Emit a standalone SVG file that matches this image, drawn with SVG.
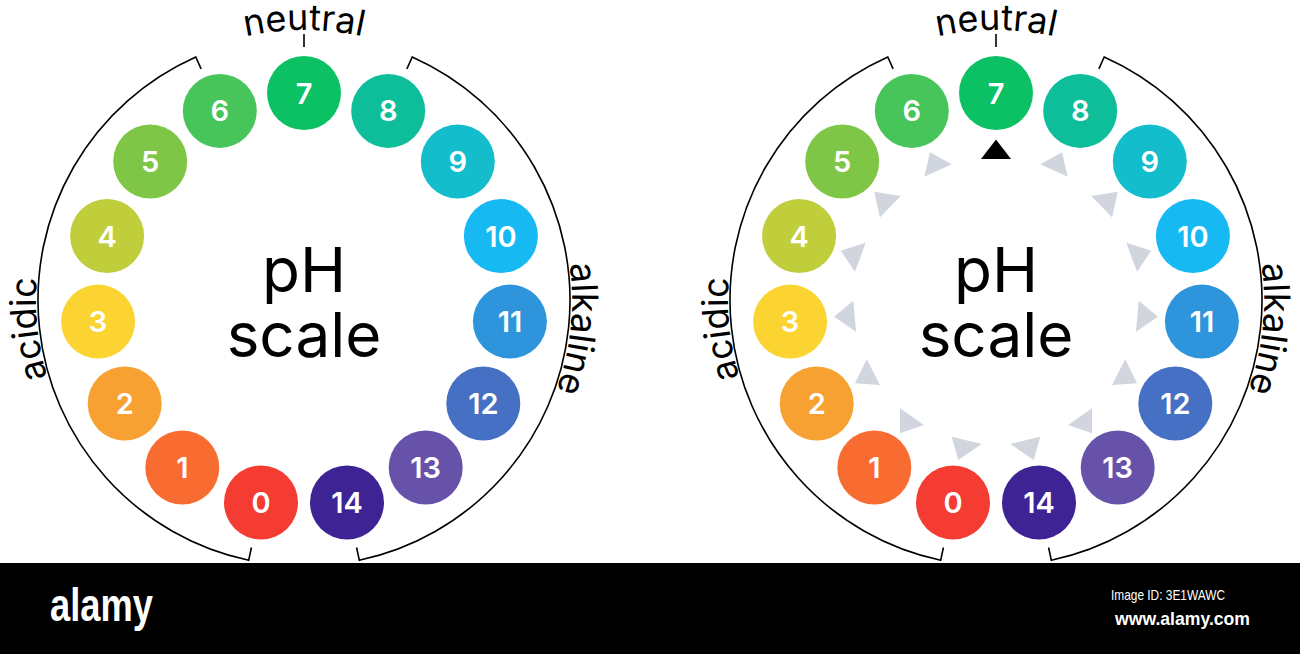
<svg xmlns="http://www.w3.org/2000/svg" xmlns:xlink="http://www.w3.org/1999/xlink" width="1300" height="654" viewBox="0 0 1300 654">
<style>
  .num { font-family: Inter, "Liberation Sans", sans-serif; font-size: 29px; font-weight: 600; fill: #ffffff; text-anchor: middle; }
  .title { font-family: Inter, "Liberation Sans", sans-serif; font-size: 62px; font-weight: 400; fill: #000000; text-anchor: middle; }
  .lbl { font-family: Inter, "Liberation Sans", sans-serif; font-size: 36px; font-weight: 400; fill: #000000; }
  .br { fill: none; stroke: #000000; stroke-width: 1.6; }
  .tri { fill: #D0D5DE; }
  .c0 { fill: #F43C32; } .c1 { fill: #F96C31; } .c2 { fill: #F7A132; } .c3 { fill: #FCD432; }
  .c4 { fill: #C1CE3B; } .c5 { fill: #7FC646; } .c6 { fill: #47C45A; } .c7 { fill: #0CC164; }
  .c8 { fill: #0EBE9B; } .c9 { fill: #14BDCC; } .c10 { fill: #17B9F2; } .c11 { fill: #2E95DC; }
  .c12 { fill: #4670C4; } .c13 { fill: #6752A9; } .c14 { fill: #3E2395; }
  .wm { font-family: "Liberation Sans", Arial, sans-serif; fill: #ffffff; }
</style>
<defs>
  <path id="arcN" d="M130.4,93.2 A270,270 0 0 1 477.6,93.2"/>
  <path id="arcA" d="M117.8,492.8 A268,268 0 0 1 81.8,150.1"/>
  <path id="arcK" d="M526.2,150.1 A268,268 0 0 1 490.2,492.8"/>
  <path id="arcN2" d="M822.4,93.2 A270,270 0 0 1 1169.6,93.2"/>
  <path id="arcA2" d="M809.8,492.8 A268,268 0 0 1 773.8,150.1"/>
  <path id="arcK2" d="M1218.2,150.1 A268,268 0 0 1 1182.2,492.8"/>
</defs>
<rect x="0" y="0" width="1300" height="654" fill="#ffffff"/>

<!-- LEFT WHEEL -->
<g id="left-wheel">
  <g id="left-brackets" class="connectors">
    <path class="br" d="M251.4,547.5 L248.7,560.2 A266,266 0 0 1 195.8,57 L201.1,68.9"/>
    <path class="br" d="M406.9,68.9 L412.2,57 A266,266 0 0 1 359.3,560.2 L356.6,547.5"/>
    <path class="br" d="M304,34 L304,47"/>
  </g>
  <g id="left-labels">
    <text class="lbl"><textPath xlink:href="#arcN" href="#arcN" startOffset="50%" text-anchor="middle">neutral</textPath></text>
    <text class="lbl"><textPath xlink:href="#arcA" href="#arcA" startOffset="50%" text-anchor="middle">acidic</textPath></text>
    <text class="lbl"><textPath xlink:href="#arcK" href="#arcK" startOffset="50%" text-anchor="middle">alkaline</textPath></text>
  </g>
  <g id="left-title">
    <text class="title" x="304" y="292">pH</text>
    <text class="title" x="304" y="357">scale</text>
  </g>
  <g id="L0"><circle class="c0" cx="261" cy="502.5" r="37"/><text class="num" x="261" y="513">0</text></g>
  <g id="L1"><circle class="c1" cx="182.3" cy="467.5" r="37"/><text class="num" x="182.3" y="478">1</text></g>
  <g id="L2"><circle class="c2" cx="124.7" cy="403.5" r="37"/><text class="num" x="124.7" y="414">2</text></g>
  <g id="L3"><circle class="c3" cx="98.1" cy="321.6" r="37"/><text class="num" x="98.1" y="332.1">3</text></g>
  <g id="L4"><circle class="c4" cx="107.1" cy="236" r="37"/><text class="num" x="107.1" y="246.5">4</text></g>
  <g id="L5"><circle class="c5" cx="150.2" cy="161.5" r="37"/><text class="num" x="150.2" y="172">5</text></g>
  <g id="L6"><circle class="c6" cx="219.8" cy="110.9" r="37"/><text class="num" x="219.8" y="121.4">6</text></g>
  <g id="L7"><circle class="c7" cx="304" cy="93" r="37"/><text class="num" x="304" y="103.5">7</text></g>
  <g id="L8"><circle class="c8" cx="388.2" cy="110.9" r="37"/><text class="num" x="388.2" y="121.4">8</text></g>
  <g id="L9"><circle class="c9" cx="457.8" cy="161.5" r="37"/><text class="num" x="457.8" y="172">9</text></g>
  <g id="L10"><circle class="c10" cx="500.9" cy="236" r="37"/><text class="num" x="500.9" y="246.5">10</text></g>
  <g id="L11"><circle class="c11" cx="509.9" cy="321.6" r="37"/><text class="num" x="509.9" y="332.1">11</text></g>
  <g id="L12"><circle class="c12" cx="483.3" cy="403.5" r="37"/><text class="num" x="483.3" y="414">12</text></g>
  <g id="L13"><circle class="c13" cx="425.7" cy="467.5" r="37"/><text class="num" x="425.7" y="478">13</text></g>
  <g id="L14"><circle class="c14" cx="347" cy="502.5" r="37"/><text class="num" x="347" y="513">14</text></g>
</g>

<!-- RIGHT WHEEL -->
<g id="right-wheel">
  <g id="right-brackets" class="connectors">
    <path class="br" d="M943.4,547.5 L940.7,560.2 A266,266 0 0 1 887.8,57 L893.1,68.9"/>
    <path class="br" d="M1098.9,68.9 L1104.2,57 A266,266 0 0 1 1051.3,560.2 L1048.6,547.5"/>
    <path class="br" d="M996,34 L996,47"/>
  </g>
  <g id="right-labels">
    <text class="lbl"><textPath xlink:href="#arcN2" href="#arcN2" startOffset="50%" text-anchor="middle">neutral</textPath></text>
    <text class="lbl"><textPath xlink:href="#arcA2" href="#arcA2" startOffset="50%" text-anchor="middle">acidic</textPath></text>
    <text class="lbl"><textPath xlink:href="#arcK2" href="#arcK2" startOffset="50%" text-anchor="middle">alkaline</textPath></text>
  </g>
  <g id="right-title">
    <text class="title" x="996" y="292">pH</text>
    <text class="title" x="996" y="357">scale</text>
  </g>
  <g id="right-arrows" class="connectors">
    <polygon class="tri" points="930,152.3 951.7,164.3 924.3,176.7"/>
    <polygon class="tri" points="874.3,191.7 900.7,196 880,217.3"/>
    <polygon class="tri" points="840.7,250.7 865.7,242.7 855,271.7"/>
    <polygon class="tri" points="834,316.7 853.3,300.7 856,331.7"/>
    <polygon class="tri" points="855,383.3 866.7,359.3 880,385"/>
    <polygon class="tri" points="900,408.3 924,425 900,433.3"/>
    <polygon class="tri" points="951.7,436.7 981.7,444 958.3,460"/>
    <polygon class="tri" points="1062,152.3 1040.3,164.3 1067.7,176.7"/>
    <polygon class="tri" points="1117.7,191.7 1091.3,196 1112,217.3"/>
    <polygon class="tri" points="1151.3,250.7 1126.3,242.7 1137,271.7"/>
    <polygon class="tri" points="1158,316.7 1138.7,300.7 1136,331.7"/>
    <polygon class="tri" points="1137,383.3 1125.3,359.3 1112,385"/>
    <polygon class="tri" points="1092,408.3 1068,425 1092,433.3"/>
    <polygon class="tri" points="1040.3,436.7 1010.3,444 1033.7,460"/>
    <polygon fill="#000000" points="981,159 1011,159 996,139.5"/>
  </g>
  <g id="R0"><circle class="c0" cx="953" cy="502.5" r="37"/><text class="num" x="953" y="513">0</text></g>
  <g id="R1"><circle class="c1" cx="874.3" cy="467.5" r="37"/><text class="num" x="874.3" y="478">1</text></g>
  <g id="R2"><circle class="c2" cx="816.7" cy="403.5" r="37"/><text class="num" x="816.7" y="414">2</text></g>
  <g id="R3"><circle class="c3" cx="790.1" cy="321.6" r="37"/><text class="num" x="790.1" y="332.1">3</text></g>
  <g id="R4"><circle class="c4" cx="799.1" cy="236" r="37"/><text class="num" x="799.1" y="246.5">4</text></g>
  <g id="R5"><circle class="c5" cx="842.2" cy="161.5" r="37"/><text class="num" x="842.2" y="172">5</text></g>
  <g id="R6"><circle class="c6" cx="911.8" cy="110.9" r="37"/><text class="num" x="911.8" y="121.4">6</text></g>
  <g id="R7"><circle class="c7" cx="996" cy="93" r="37"/><text class="num" x="996" y="103.5">7</text></g>
  <g id="R8"><circle class="c8" cx="1080.2" cy="110.9" r="37"/><text class="num" x="1080.2" y="121.4">8</text></g>
  <g id="R9"><circle class="c9" cx="1149.8" cy="161.5" r="37"/><text class="num" x="1149.8" y="172">9</text></g>
  <g id="R10"><circle class="c10" cx="1192.9" cy="236" r="37"/><text class="num" x="1192.9" y="246.5">10</text></g>
  <g id="R11"><circle class="c11" cx="1201.9" cy="321.6" r="37"/><text class="num" x="1201.9" y="332.1">11</text></g>
  <g id="R12"><circle class="c12" cx="1175.3" cy="403.5" r="37"/><text class="num" x="1175.3" y="414">12</text></g>
  <g id="R13"><circle class="c13" cx="1117.7" cy="467.5" r="37"/><text class="num" x="1117.7" y="478">13</text></g>
  <g id="R14"><circle class="c14" cx="1039" cy="502.5" r="37"/><text class="num" x="1039" y="513">14</text></g>
</g>

<!-- FOOTER BAND -->
<g id="footer">
  <rect x="0" y="563" width="1300" height="91" fill="#000000"/>
  <text class="wm" x="50" y="621" font-size="47" font-weight="700" textLength="103" lengthAdjust="spacingAndGlyphs">alamy</text>
  <text class="wm" x="1111" y="600" font-size="15" textLength="114" lengthAdjust="spacingAndGlyphs">Image ID: 3E1WAWC</text>
  <text class="wm" x="1115" y="625" font-size="19" font-weight="700" textLength="135" lengthAdjust="spacingAndGlyphs">www.alamy.com</text>
</g>
</svg>
